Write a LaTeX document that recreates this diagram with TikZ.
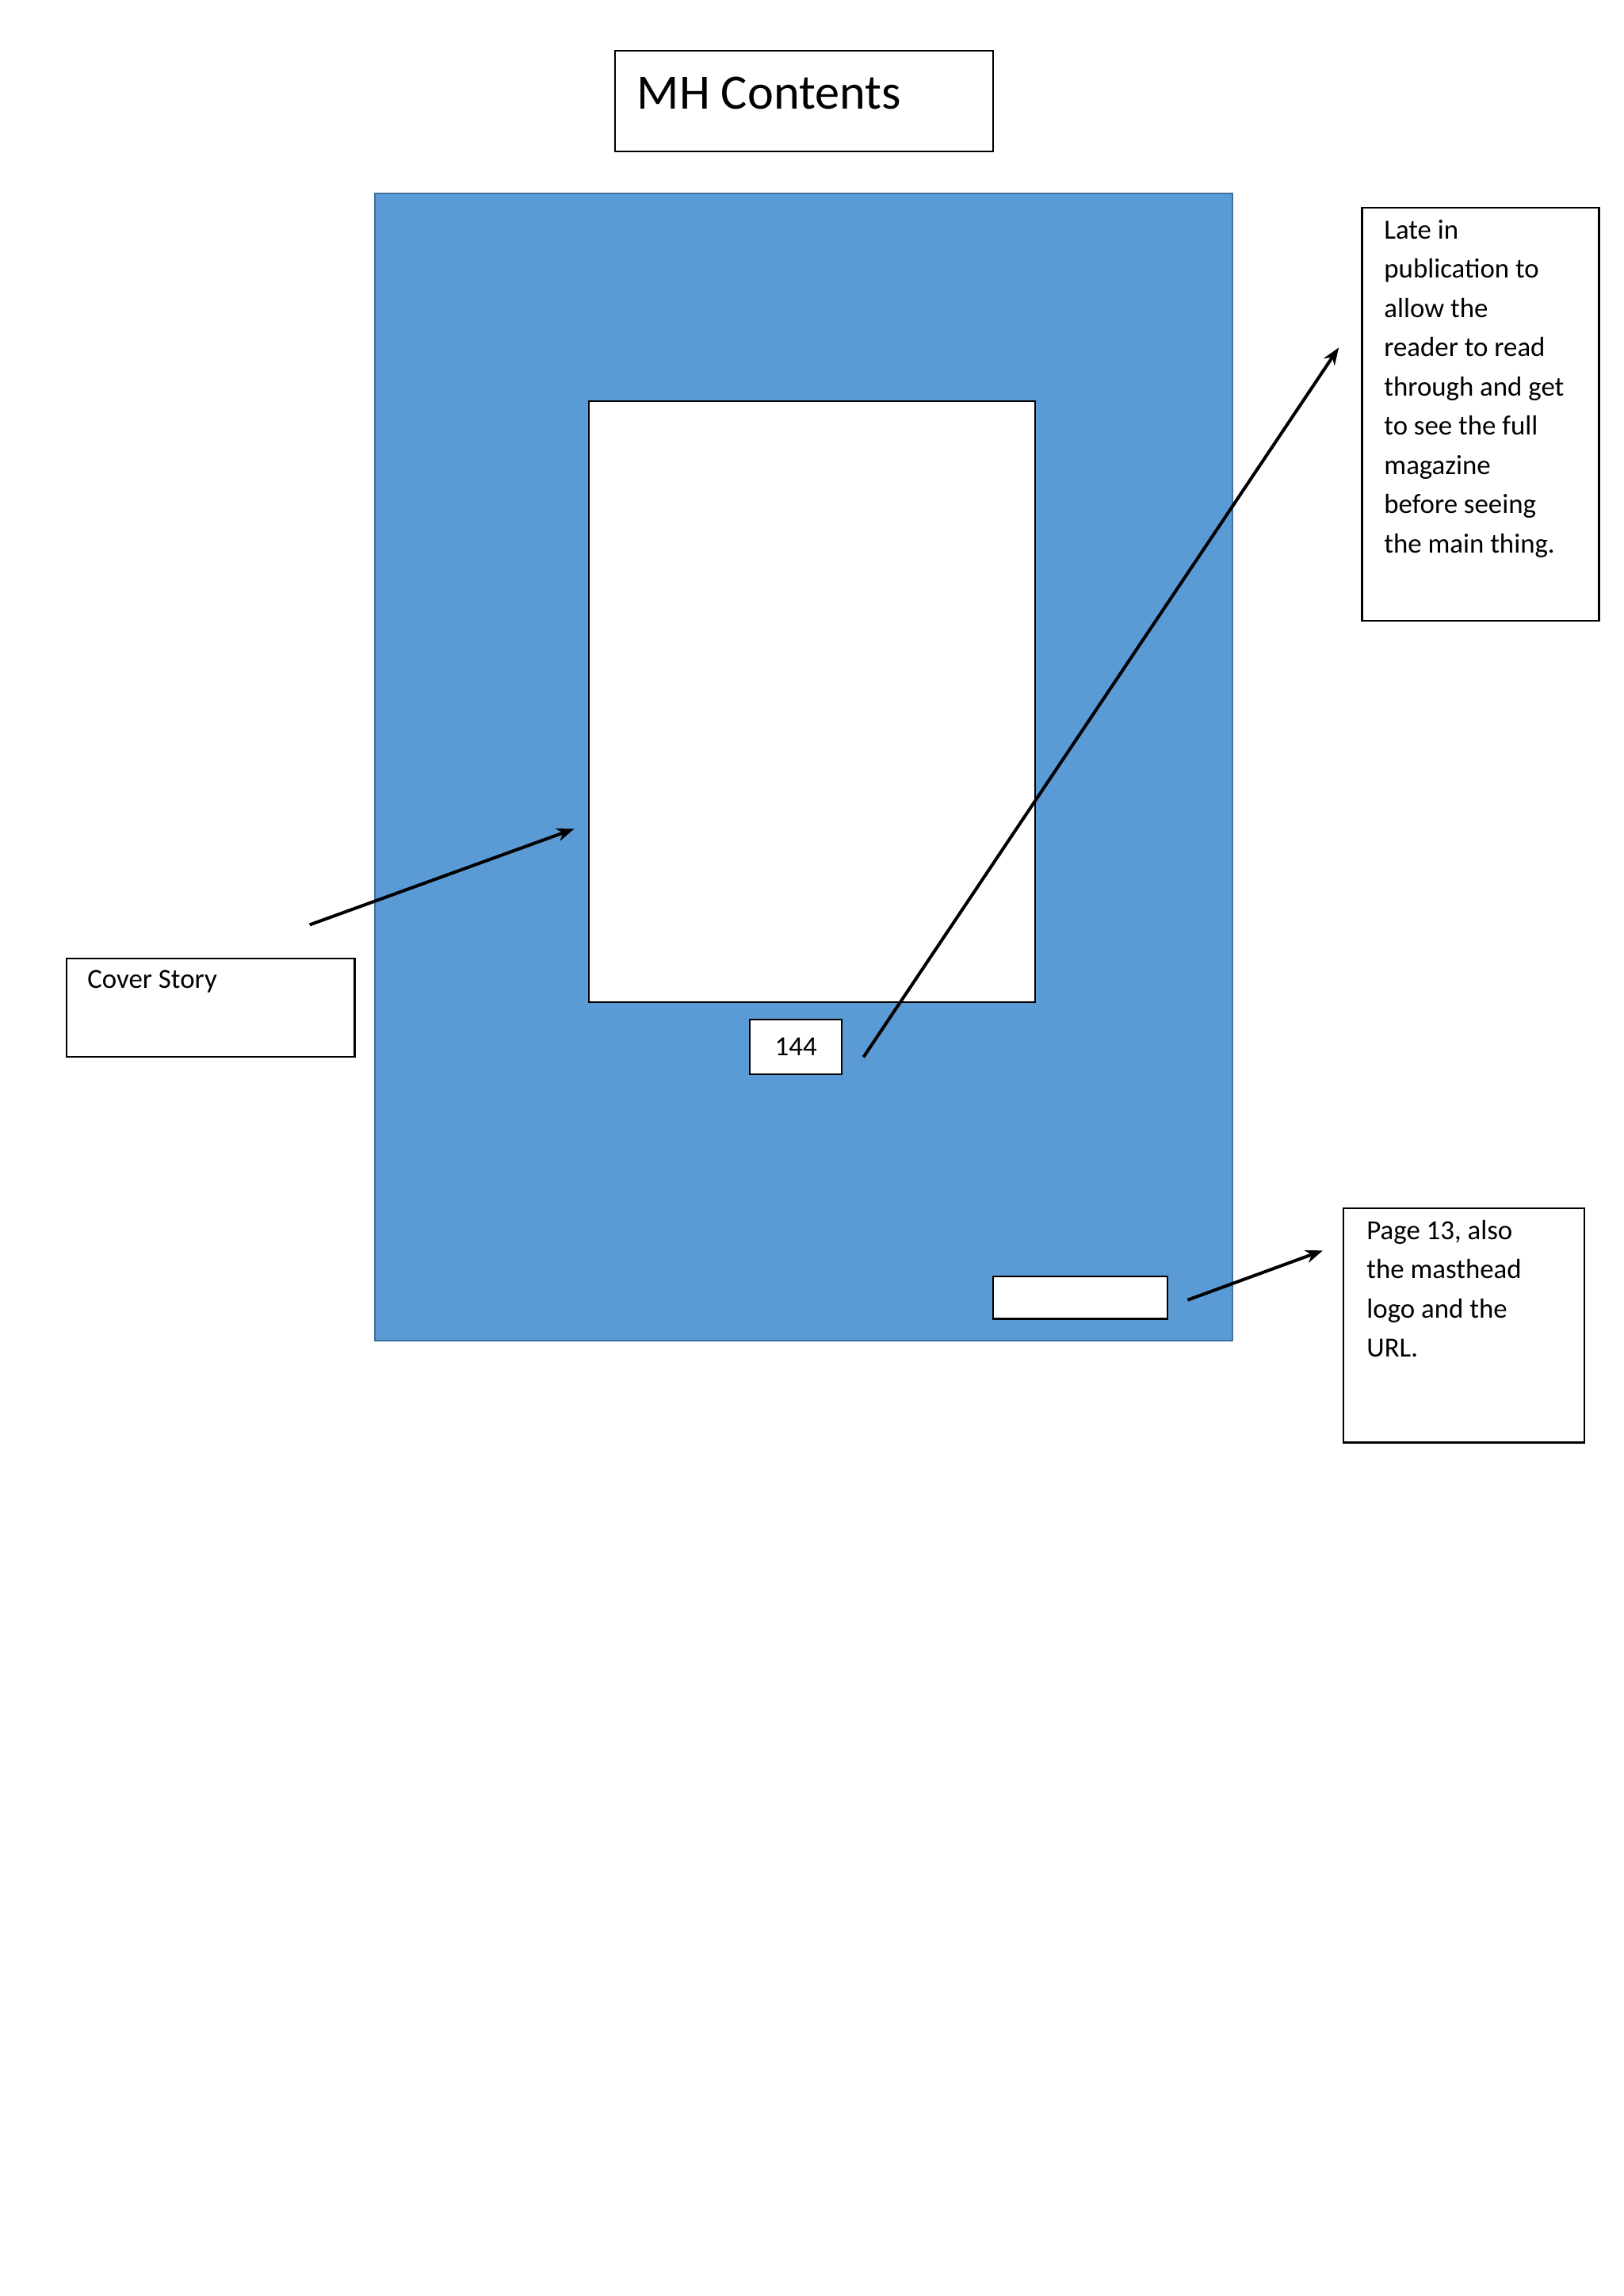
\documentclass[tikz,border=0pt]{standalone}
\usepackage{fontspec}
\setmainfont{Carlito}
\usetikzlibrary{arrows.meta}
\begin{document}
\begin{tikzpicture}[x=1pt,y=-1pt,
  box/.style={draw=black,line width=1.2pt,fill=white},
  txt/.style={anchor=north west,inner sep=0pt,font=\fontsize{19}{27}\selectfont,align=left},
  arr/.style={line width=2.2pt,-{Stealth[length=12pt,width=9pt]}}]
\useasboundingbox (0,0) rectangle (1117,1579);
\fill[white] (0,0) rectangle (1117,1579);
\draw[box] (423,35) rectangle (683,104);
\node[anchor=west,inner sep=0pt,font=\fontsize{34}{40}\selectfont] (title) at (438,64) {MH Contents};
\draw[fill={rgb,255:red,91;green,155;blue,213},draw={rgb,255:red,65;green,113;blue,156},line width=1.2pt] (258,133) rectangle (848,922);
\draw[box] (405,276) rectangle (712,689);
\node[box,minimum width=63pt,minimum height=38pt,inner sep=0pt,font=\fontsize{19}{22}\selectfont] (num) at (547.5,720) {144};
\draw[box] (683,878) rectangle (803,907);
\draw[box] (46,659) rectangle (244,727);
\node[txt] (cs) at (60,667) {Cover Story};
\draw[box] (937,143) rectangle (1100,427);
\node[txt] (late) at (952,151) {Late in\\publication to\\allow the\\reader to read\\through and get\\to see the full\\magazine\\before seeing\\the main thing.};
\draw[box] (924,831) rectangle (1090,992);
\node[txt] (p13) at (940,839) {Page 13, also\\the masthead\\logo and the\\URL.};
\coordinate (a1) at (213,636); \coordinate (b1) at (395,570);
\coordinate (a2) at (594,727); \coordinate (b2) at (921,239);
\coordinate (a3) at (817,894); \coordinate (b3) at (910,860);
\draw[arr] (a1) -- (b1);
\draw[arr] (a2) -- (b2);
\draw[arr] (a3) -- (b3);
\end{tikzpicture}
\end{document}
